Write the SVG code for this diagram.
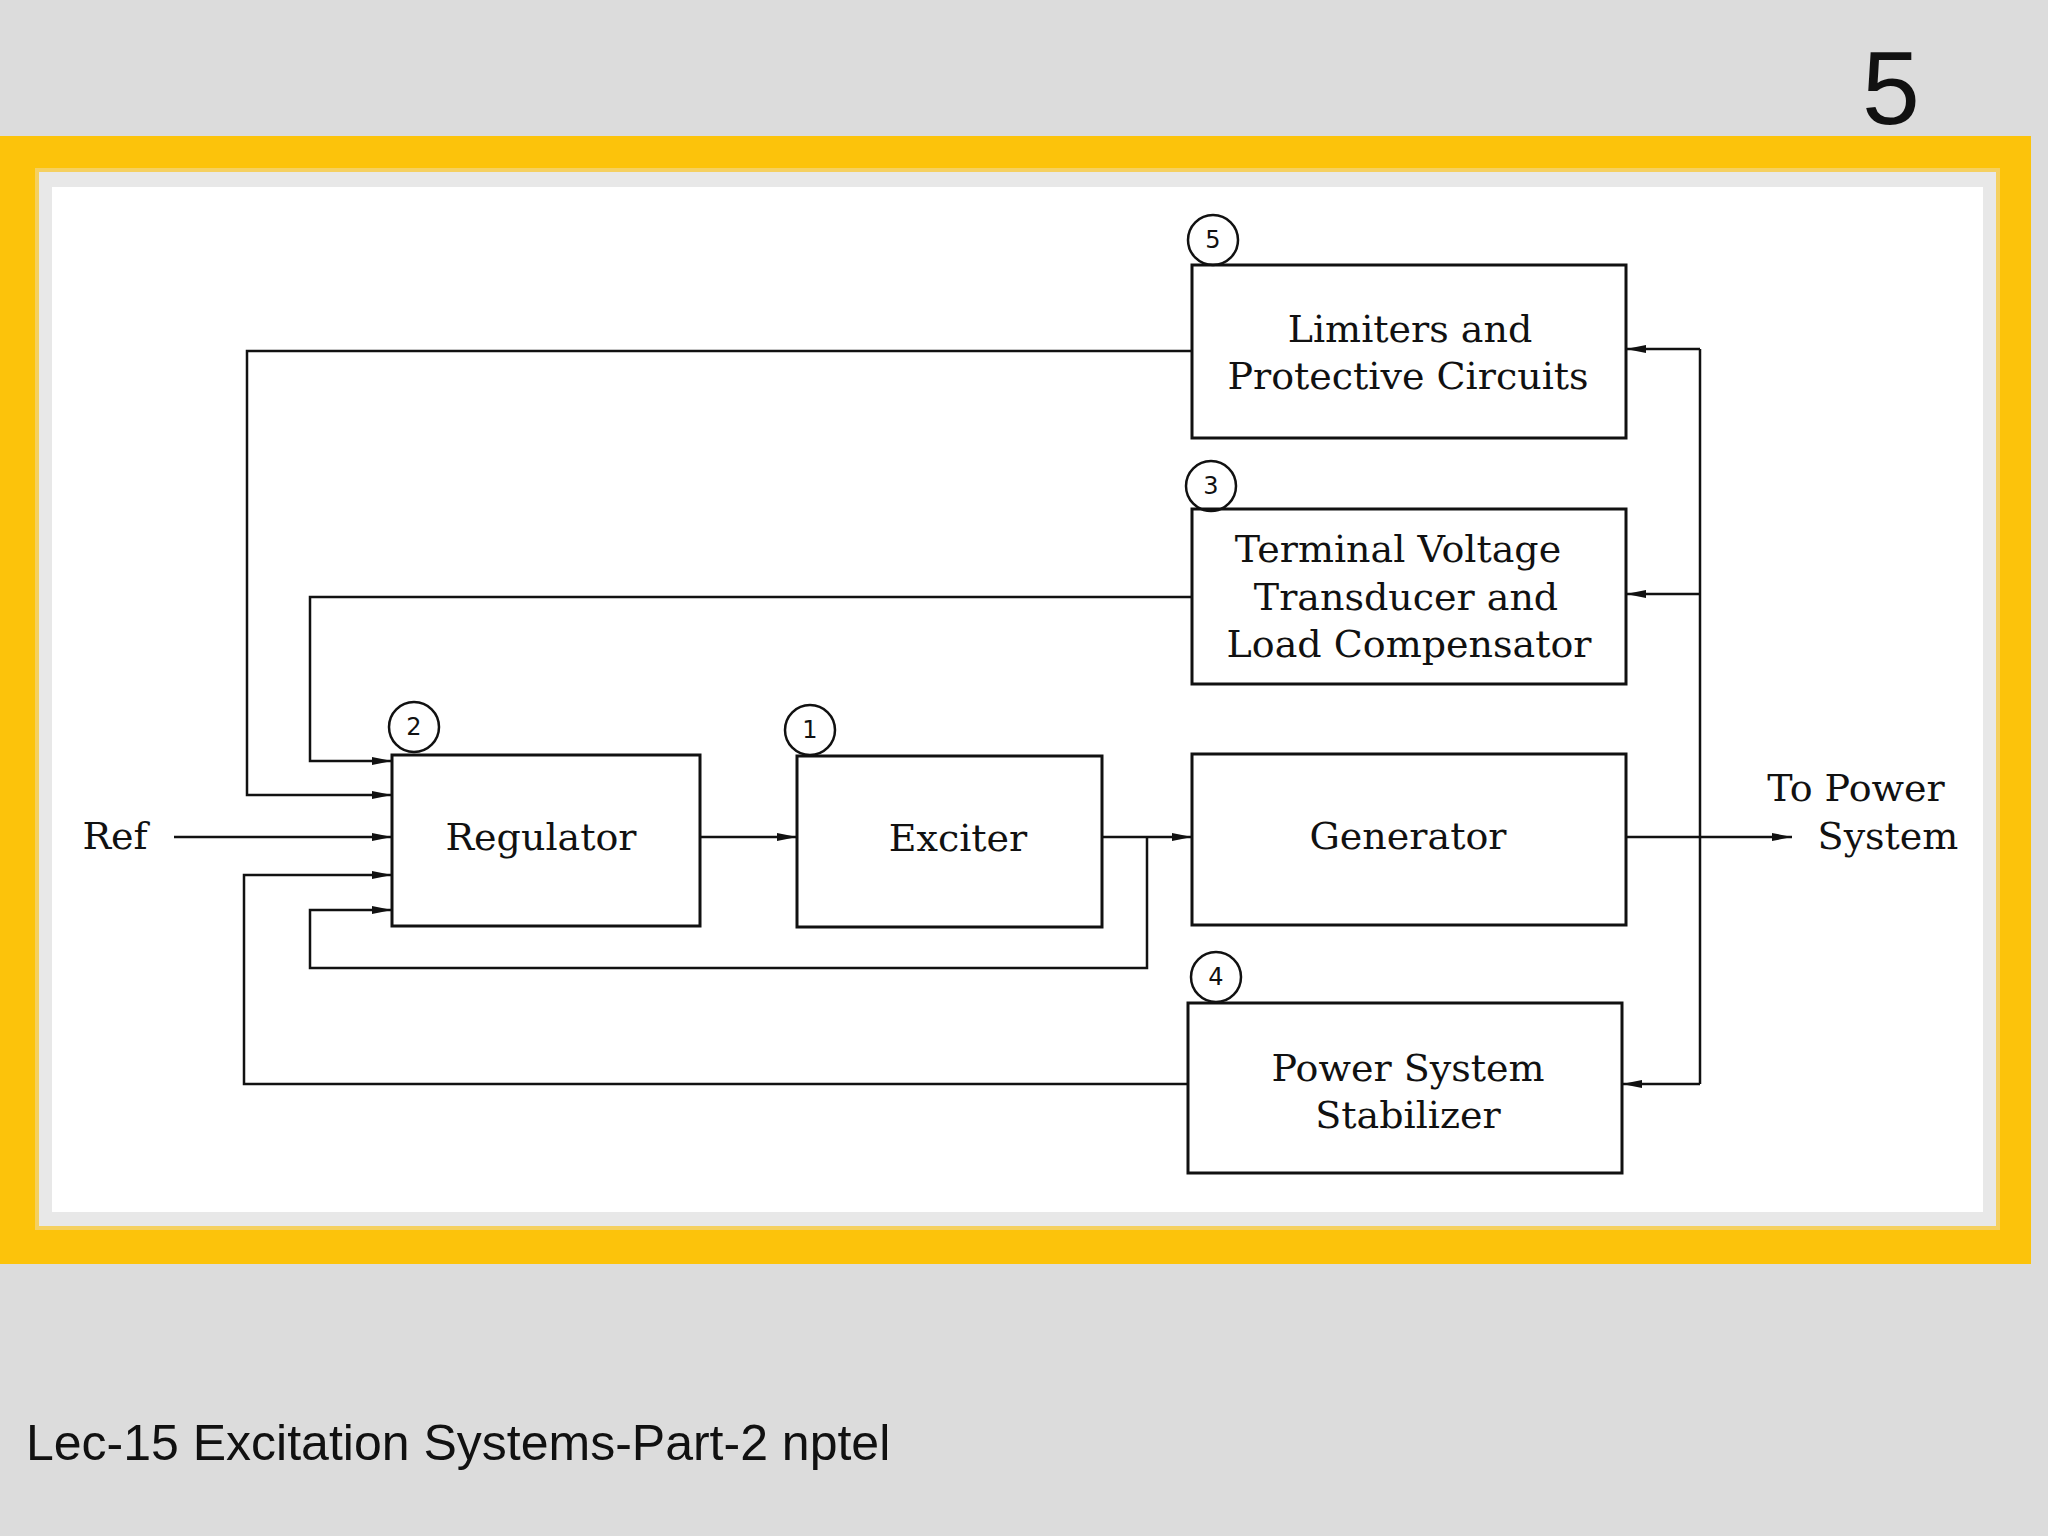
<svg xmlns="http://www.w3.org/2000/svg" width="2048" height="1536" viewBox="0 0 2048 1536">
<style>
.b{fill:none;stroke:#111;stroke-width:3}
.l{fill:none;stroke:#111;stroke-width:2.5}
.t{font-family:"DejaVu Serif",serif;font-size:38px;fill:#111;text-anchor:middle}
.c{fill:none;stroke:#111;stroke-width:2.5}
.n{font-family:"DejaVu Sans",sans-serif;font-size:24px;fill:#111;text-anchor:middle}
</style>
<defs><marker id="a" markerWidth="20" markerHeight="10" refX="20" refY="5" orient="auto" markerUnits="userSpaceOnUse"><path d="M0,1 L20,5 L0,9 Z" fill="#111"/></marker></defs>
<rect width="2048" height="1536" fill="#dcdcdc"/>
<rect x="0" y="136" width="2031" height="1128" fill="#fcc30b"/>
<rect x="37" y="170" width="1961" height="1058" fill="#e8e8e8" stroke="#f5d060" stroke-width="4"/>
<rect x="52" y="187" width="1931" height="1025" fill="#fff"/>
<text x="1862" y="124" font-family="Liberation Sans,sans-serif" font-size="104" fill="#111">5</text>
<text x="26" y="1460" font-family="Liberation Sans,sans-serif" font-size="50" fill="#111">Lec-15 Excitation Systems-Part-2 nptel</text>
<g id="connectors">
<polyline class="l" points="1192,351 247,351 247,795 392,795" marker-end="url(#a)"/>
<polyline class="l" points="1192,597 310,597 310,761 392,761" marker-end="url(#a)"/>
<line class="l" x1="174" y1="837" x2="392" y2="837" marker-end="url(#a)"/>
<polyline class="l" points="1188,1084 244,1084 244,875 392,875" marker-end="url(#a)"/>
<polyline class="l" points="1147,837 1147,968 310,968 310,910 392,910" marker-end="url(#a)"/>
<line class="l" x1="700" y1="837" x2="797" y2="837" marker-end="url(#a)"/>
<line class="l" x1="1102" y1="837" x2="1192" y2="837" marker-end="url(#a)"/>
<line class="l" x1="1626" y1="837" x2="1792" y2="837" marker-end="url(#a)"/>
<line class="l" x1="1700" y1="349" x2="1700" y2="1084"/>
<line class="l" x1="1700" y1="349" x2="1626" y2="349" marker-end="url(#a)"/>
<line class="l" x1="1700" y1="594" x2="1626" y2="594" marker-end="url(#a)"/>
<line class="l" x1="1700" y1="1084" x2="1622" y2="1084" marker-end="url(#a)"/>
</g>
<text class="t" x="115" y="849">Ref</text>
<text class="t" x="1856" y="801">To Power</text>
<text class="t" x="1888" y="849">System</text>
<g id="limiters"><rect class="b" x="1192" y="265" width="434" height="173"/><text class="t" x="1410" y="342">Limiters and</text><text class="t" x="1408" y="389">Protective Circuits</text><circle class="c" cx="1213" cy="240" r="25"/><text class="n" x="1213" y="248">5</text></g>
<g id="terminal"><rect class="b" x="1192" y="509" width="434" height="175"/><text class="t" x="1398" y="562">Terminal Voltage</text><text class="t" x="1406" y="610">Transducer and</text><text class="t" x="1409" y="657">Load Compensator</text><circle class="c" cx="1211" cy="486" r="25"/><text class="n" x="1211" y="494">3</text></g>
<g id="generator"><rect class="b" x="1192" y="754" width="434" height="171"/><text class="t" x="1408" y="849">Generator</text></g>
<g id="pss"><rect class="b" x="1188" y="1003" width="434" height="170"/><text class="t" x="1408" y="1081">Power System</text><text class="t" x="1408" y="1128">Stabilizer</text><circle class="c" cx="1216" cy="977" r="25"/><text class="n" x="1216" y="985">4</text></g>
<g id="regulator"><rect class="b" x="392" y="755" width="308" height="171"/><text class="t" x="541" y="850">Regulator</text><circle class="c" cx="414" cy="727" r="25"/><text class="n" x="414" y="735">2</text></g>
<g id="exciter"><rect class="b" x="797" y="756" width="305" height="171"/><text class="t" x="958" y="851">Exciter</text><circle class="c" cx="810" cy="730" r="25"/><text class="n" x="810" y="738">1</text></g>
</svg>
